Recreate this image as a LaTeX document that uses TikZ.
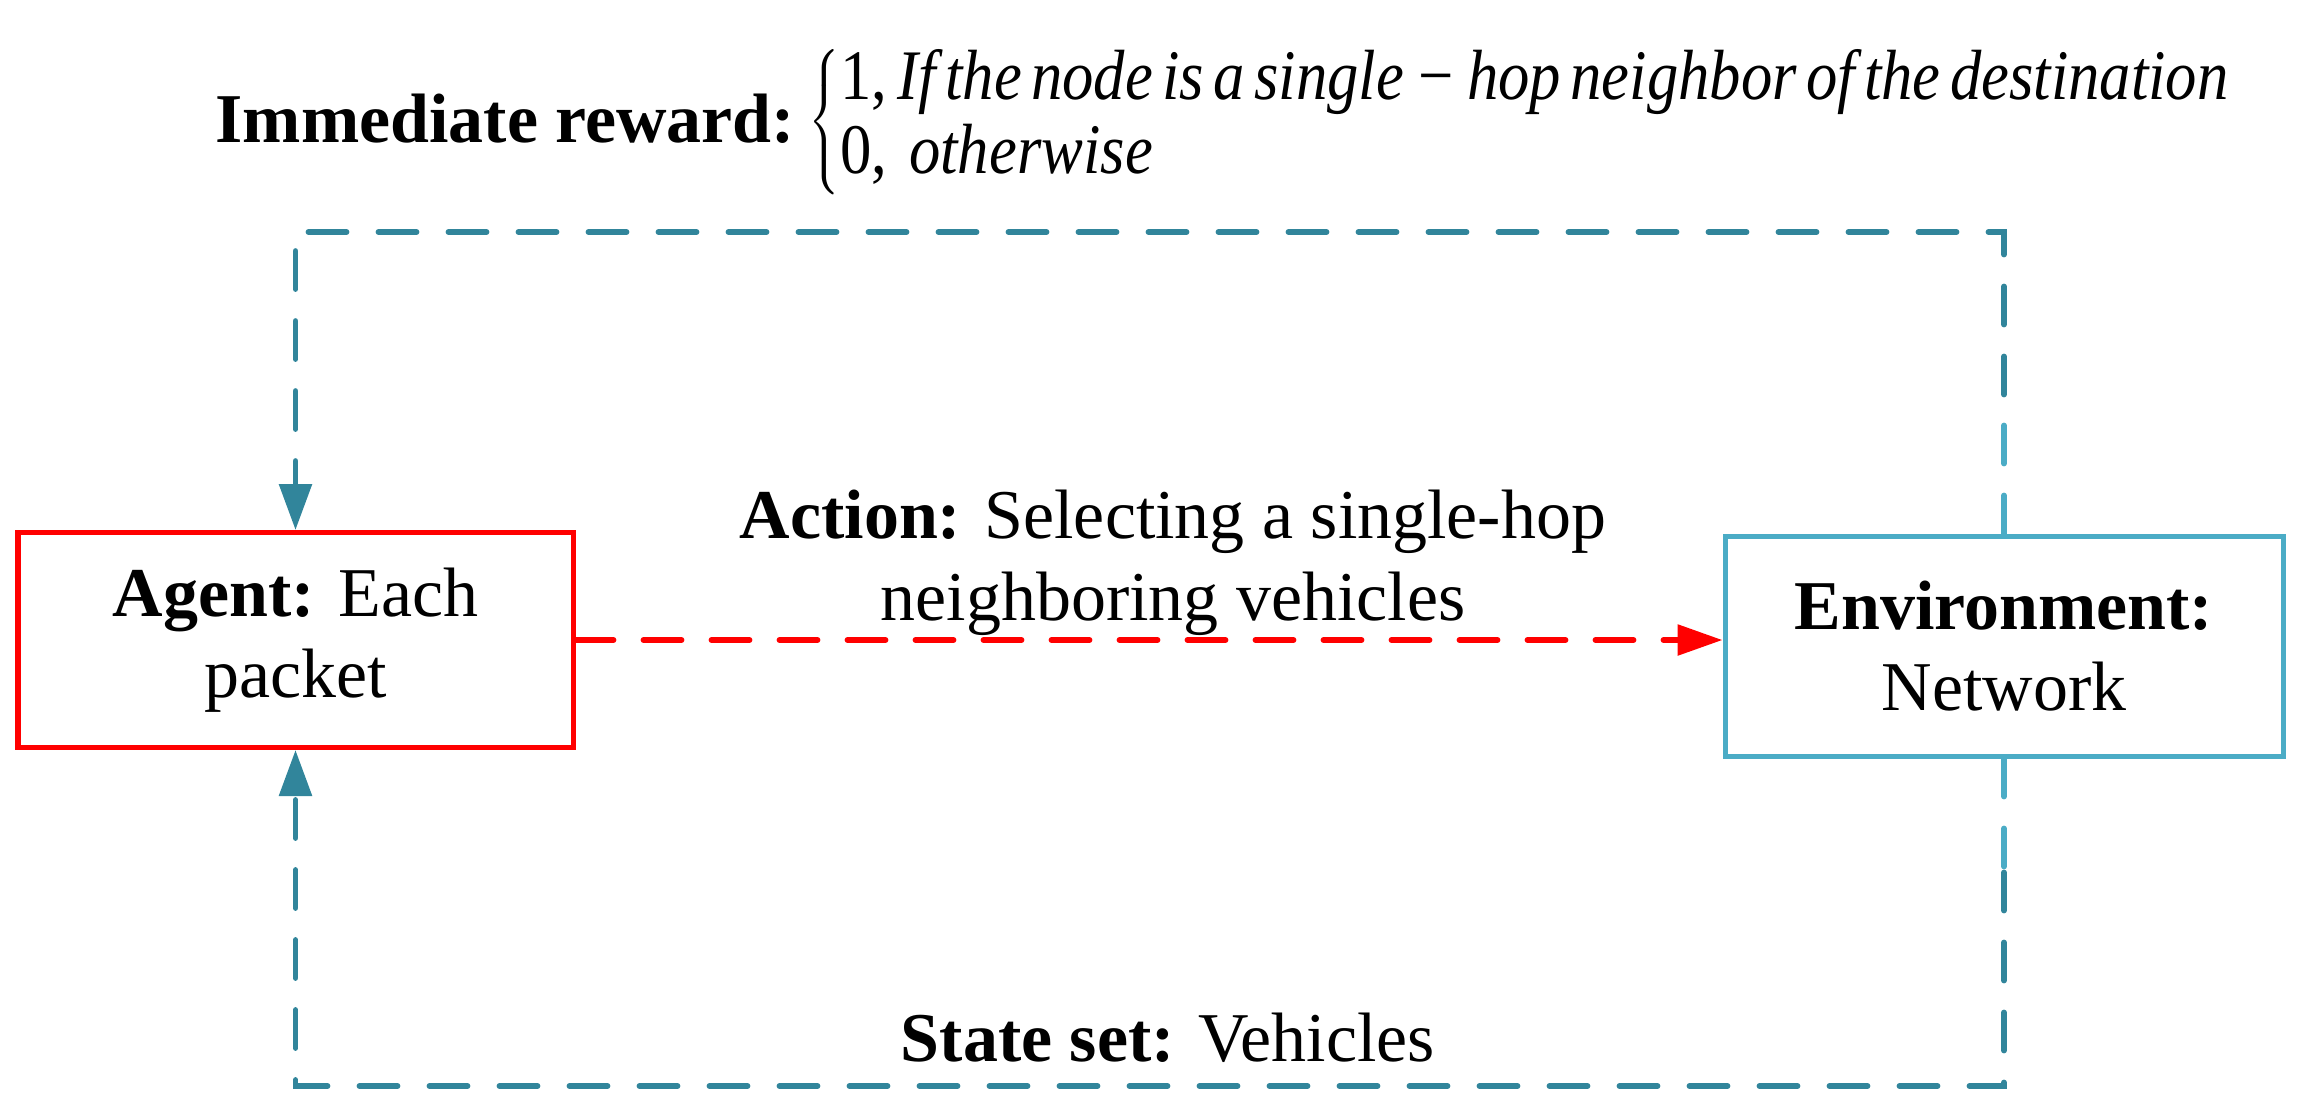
\documentclass[tikz,border=0pt]{standalone}
\usepackage{fontspec}
\setmainfont{Liberation Serif}
\usepackage{graphicx}
\usetikzlibrary{arrows.meta,positioning}

\definecolor{tealdark}{RGB}{49,133,155}
\definecolor{teallight}{RGB}{75,172,198}

\tikzset{
  boxnode/.style={draw, line width=0.05cm, align=center, inner sep=0pt,
    font=\fontsize{19.9pt}{23.2pt}\selectfont},
  labeltext/.style={align=center, inner sep=0pt, font=\fontsize{19.9pt}{23.2pt}\selectfont},
  loopline/.style={line width=0.058cm, line cap=round, dash pattern=on 0.38cm off 0.32cm},
  looptip/.style={-{Triangle[length=0.46cm,width=0.32cm]}},
}

\begin{document}
\begin{tikzpicture}
\useasboundingbox (0,0) rectangle (23.02,-11.16);

 % the two boxes
  \node[boxnode, red, text=black, minimum width=5.55cm, minimum height=2.15cm] (agent) at (2.955,-6.40) {\textbf{Agent:} Each\\packet};
  \node[boxnode, teallight, text=black, minimum width=5.58cm, minimum height=2.2cm] (env) at (20.04,-6.46) {\textbf{Environment:}\\Network};

 % the reward formula
  \node[labeltext, anchor=west] (reward) at (2.15,-1.19) {\textbf{Immediate reward:}};
  \node[anchor=west, inner sep=0pt] (cases) at (8.08,-1.22) {\resizebox*{14.24cm}{1.47cm}{\fontsize{17.6pt}{18.2pt}\selectfont$\left\{\begin{tabular}{@{}l@{}}1,\,{\itshape\spaceskip=0.15em If the node is a single\,−\,hop neighbor of the destination}\\0,\hspace{0.35em}\textit{otherwise}\end{tabular}\right.$}};

 % action and state texts
  \node[labeltext] (action) at (11.73,-5.63) {\textbf{Action:} Selecting a single-hop\\neighboring vehicles};
  \node[labeltext] (state) at (11.68,-10.38) {\textbf{State set:} Vehicles};

 % corners of the loops
  \coordinate (topleft) at (agent.north |- 0,-2.32);
  \coordinate (topright) at (env.north |- topleft);
  \coordinate (botleft) at (agent.south |- 0,-10.86);
  \coordinate (botright) at (env.south |- botleft);
  \coordinate (topfade) at ([yshift=1.39cm]env.north);
  \coordinate (botfade) at ([yshift=-1.14cm]env.south);

 % reward loop on top
  \draw[loopline, teallight] (env.north) -- (topfade);
  \draw[loopline, tealdark, looptip] (topfade) -- (topright) -- (topleft) -- (agent.north);

 % state loop below
  \draw[loopline, teallight] (env.south) -- (botfade);
  \draw[loopline, tealdark, looptip] (botfade) -- (botright) -- (botleft) -- (agent.south);

 % action arrow
  \draw[loopline, red, dash pattern=on 0.38cm off 0.3cm, -{Triangle[length=0.45cm,width=0.3cm]}] (agent.east) -- (agent.east -| env.west);
\end{tikzpicture}
\end{document}
